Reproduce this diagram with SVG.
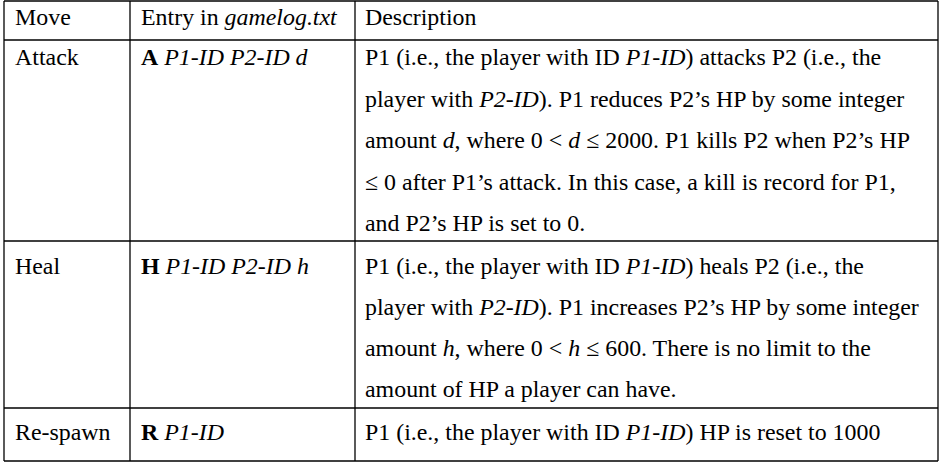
<svg xmlns="http://www.w3.org/2000/svg" width="943" height="464" viewBox="0 0 943 464">
<style>
text{font-family:"Liberation Serif","Times New Roman",serif;font-size:23.9px;fill:#000}
.i{font-style:italic}.b{font-weight:bold}
line{stroke:#000;stroke-width:1.3}
</style>
<rect width="943" height="464" fill="#fff"/>
<g id="grid">
<line x1="4" y1="1" x2="938" y2="1"/>
<line x1="4" y1="40" x2="938" y2="40"/>
<line x1="4" y1="241" x2="938" y2="241"/>
<line x1="4" y1="408" x2="938" y2="408"/>
<line x1="4" y1="461" x2="938" y2="461"/>
<line x1="4" y1="1" x2="4" y2="461"/>
<line x1="130" y1="1" x2="130" y2="461"/>
<line x1="355" y1="1" x2="355" y2="461"/>
<line x1="938" y1="1" x2="938" y2="461"/>
</g>
<g id="header">
<text x="15" y="25">Move</text>
<text x="141" y="25">Entry in <tspan class="i">gamelog.txt</tspan></text>
<text x="365" y="25">Description</text>
</g>
<g id="attack">
<text x="15" y="65">Attack</text>
<text x="141" y="65"><tspan class="b">A</tspan> <tspan class="i">P1-ID P2-ID d</tspan></text>
<text x="365" y="65">P1 (i.e., the player with ID <tspan class="i">P1-ID</tspan>) attacks P2 (i.e., the</text>
<text x="365" y="106.5">player with <tspan class="i">P2-ID</tspan>). P1 reduces P2’s HP by some integer</text>
<text x="365" y="148">amount <tspan class="i">d</tspan>, where 0 &lt; <tspan class="i">d</tspan> ≤ 2000. P1 kills P2 when P2’s HP</text>
<text x="365" y="189.5">≤ 0 after P1’s attack. In this case, a kill is record for P1,</text>
<text x="365" y="231">and P2’s HP is set to 0.</text>
</g>
<g id="heal">
<text x="15" y="274">Heal</text>
<text x="141" y="274"><tspan class="b">H</tspan> <tspan class="i">P1-ID P2-ID h</tspan></text>
<text x="365" y="274">P1 (i.e., the player with ID <tspan class="i">P1-ID</tspan>) heals P2 (i.e., the</text>
<text x="365" y="315">player with <tspan class="i">P2-ID</tspan>). P1 increases P2’s HP by some integer</text>
<text x="365" y="356">amount <tspan class="i">h</tspan>, where 0 &lt; <tspan class="i">h</tspan> ≤ 600. There is no limit to the</text>
<text x="365" y="397">amount of HP a player can have.</text>
</g>
<g id="respawn">
<text x="15" y="440">Re-spawn</text>
<text x="141" y="440"><tspan class="b">R</tspan> <tspan class="i">P1-ID</tspan></text>
<text x="365" y="440">P1 (i.e., the player with ID <tspan class="i">P1-ID</tspan>) HP is reset to 1000</text>
</g>
</svg>
